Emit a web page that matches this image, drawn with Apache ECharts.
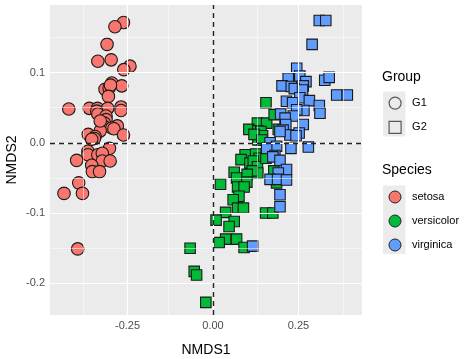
<!DOCTYPE html>
<html>
<head>
<meta charset="utf-8">
<script src="https://cdn.jsdelivr.net/npm/echarts@6/dist/echarts.min.js"></script>
<style>
html,body{margin:0;padding:0;background:#fff;}
#chart{width:474px;height:359px;}
</style>
</head>
<body>
<div id="chart"></div>
<script>
// ---- data (NMDS1, NMDS2) ----
const setosa = [
  [-0.262,0.171],[-0.287,0.165],[-0.310,0.140],[-0.337,0.116],[-0.298,0.118],
  [-0.243,0.109],[-0.261,0.104],[-0.296,0.085],[-0.267,0.081],[-0.316,0.076],
  [-0.304,0.078],[-0.300,0.082],[-0.306,0.066],[-0.422,0.048],[-0.362,0.049],
  [-0.338,0.049],[-0.308,0.049],[-0.269,0.051],[-0.269,0.046],[-0.340,0.045],
  [-0.337,0.041],[-0.313,0.038],[-0.313,0.033],[-0.318,0.028],[-0.321,0.024],
  [-0.280,0.024],[-0.296,0.021],[-0.290,0.020],[-0.330,0.017],[-0.365,0.012],
  [-0.345,0.009],[-0.262,0.011],[-0.347,0.006],[-0.355,0.005],[-0.366,-0.012],
  [-0.366,-0.017],[-0.303,-0.008],[-0.337,-0.017],[-0.324,-0.015],[-0.399,-0.025],
  [-0.324,-0.026],[-0.301,-0.026],[-0.355,-0.032],[-0.353,-0.041],[-0.332,-0.041],
  [-0.393,-0.057],[-0.436,-0.072],[-0.382,-0.072],[-0.396,-0.151],[-0.330,0.031]
];
const versicolor = [
  [0.155,0.057],[0.130,0.028],[0.157,0.028],[0.179,0.040],[0.105,0.019],
  [0.131,0.017],[0.140,0.016],[0.191,0.019],[0.132,0.007],[0.132,0.004],
  [0.145,0.010],[0.120,0.012],[0.160,0.000],[0.143,0.004],[0.125,-0.016],
  [0.094,-0.017],[0.135,-0.022],[0.082,-0.024],[0.108,-0.029],[0.118,-0.026],
  [0.130,-0.034],[0.155,-0.022],[0.131,-0.043],[0.115,-0.040],[0.062,-0.042],
  [0.069,-0.050],[0.100,-0.045],[0.099,-0.056],[0.072,-0.063],[0.091,-0.063],
  [0.076,-0.076],[0.059,-0.081],[0.072,-0.093],[0.089,-0.093],[0.154,-0.100],
  [0.175,-0.100],[0.186,-0.057],[0.178,-0.040],[0.022,-0.059],[0.037,-0.099],
  [0.009,-0.110],[0.062,-0.112],[0.047,-0.119],[0.037,-0.137],[0.018,-0.142],
  [0.069,-0.137],[0.091,-0.149],[-0.067,-0.150],[-0.055,-0.183],[-0.048,-0.188],
  [-0.021,-0.227]
];
const virginica = [
  [0.311,0.174],[0.330,0.174],[0.290,0.140],[0.245,0.106],[0.254,0.095],
  [0.220,0.092],[0.272,0.087],[0.264,0.081],[0.202,0.081],[0.229,0.080],
  [0.238,0.077],[0.262,0.075],[0.327,0.089],[0.340,0.093],[0.362,0.068],
  [0.393,0.068],[0.254,0.064],[0.282,0.060],[0.215,0.059],[0.233,0.057],
  [0.311,0.053],[0.313,0.042],[0.266,0.046],[0.245,0.047],[0.235,0.038],
  [0.198,0.041],[0.211,0.035],[0.213,0.026],[0.264,0.026],[0.205,0.018],
  [0.225,0.011],[0.252,0.014],[0.243,0.010],[0.196,0.016],[0.167,0.000],
  [0.186,-0.005],[0.157,-0.008],[0.181,-0.018],[0.175,-0.020],[0.196,-0.025],
  [0.228,-0.008],[0.279,-0.006],[0.215,-0.038],[0.191,-0.043],[0.167,-0.052],
  [0.189,-0.052],[0.215,-0.053],[0.196,-0.074],[0.196,-0.091],[0.116,-0.147]
];
const xTicks = [-0.25, 0, 0.25];
const yTicks = [-0.2, -0.1, 0, 0.1];
const xMinor = [-0.375, -0.125, 0.125, 0.375];
const yMinor = [-0.15, -0.05, 0.05, 0.15];
const xRange = [-0.477, 0.436];
const yRange = [-0.245, 0.196];
const speciesNames = ['setosa','versicolor','virginica'];
const speciesColors = ['#F8766D','#00BA38','#619CFF'];
const groupNames = ['G1','G2'];

// ---- chart ----
const chart = echarts.init(document.getElementById('chart'), null, {renderer:'canvas'});
const gridLines = [];
xTicks.forEach(v => gridLines.push({xAxis:v, lineStyle:{color:'#fff', width:1.1, type:'solid'}}));
yTicks.forEach(v => gridLines.push({yAxis:v, lineStyle:{color:'#fff', width:1.1, type:'solid'}}));
xMinor.forEach(v => gridLines.push({xAxis:v, lineStyle:{color:'#fff', width:0.5, type:'solid'}}));
yMinor.forEach(v => gridLines.push({yAxis:v, lineStyle:{color:'#fff', width:0.5, type:'solid'}}));
gridLines.push({xAxis:0, lineStyle:{color:'#222', width:1.4, type:[5,4]}});
gridLines.push({yAxis:0, lineStyle:{color:'#222', width:1.4, type:[5,4]}});

const ptStyle = (c) => ({color:c, borderColor:'#1a1a1a', borderWidth:1.1, opacity:1});

const option = {
  animation:false,
  backgroundColor:'#fff',
  grid:{left:50, right:112, top:5, bottom:44, show:true, backgroundColor:'#EBEBEB', borderWidth:0, containLabel:false, outerBoundsMode:'none'},
  title:[
    {text:'Group', left:382, top:70, padding:0, textStyle:{fontSize:14, fontWeight:'normal', color:'#000', fontFamily:'Liberation Sans'}},
    {text:'Species', left:382, top:163, padding:0, textStyle:{fontSize:14, fontWeight:'normal', color:'#000', fontFamily:'Liberation Sans'}}
  ],
  graphic:[
    {type:'rect', left:383, top:91.5, shape:{width:22.5, height:45}, style:{fill:'#EBEBEB'}, silent:true},
    {type:'rect', left:383, top:185.5, shape:{width:22.5, height:68.5}, style:{fill:'#EBEBEB'}, silent:true}
  ],
  legend:[
    {orient:'vertical', left:388.5, top:96.5, padding:0, itemWidth:12, itemHeight:12, itemGap:11, selectedMode:false,
     textStyle:{fontSize:11, color:'#000', fontFamily:'Liberation Sans', padding:[0,0,0,6]},
     data:[
       {name:groupNames[0], icon:'circle', itemStyle:{color:'rgba(0,0,0,0)', borderColor:'#333', borderWidth:1.2}},
       {name:groupNames[1], icon:'rect', itemStyle:{color:'rgba(0,0,0,0)', borderColor:'#333', borderWidth:1.2}}
     ]},
    {orient:'vertical', left:388.5, top:190.5, padding:0, itemWidth:12, itemHeight:12, itemGap:11, selectedMode:false,
     textStyle:{fontSize:11, color:'#000', fontFamily:'Liberation Sans', padding:[0,0,0,6]},
     data:speciesNames.map((n,i)=>({name:n, icon:'circle', itemStyle:{color:speciesColors[i], borderColor:'#222', borderWidth:1}}))}
  ],
  xAxis:{
    type:'value', min:xRange[0], max:xRange[1],
    name:'NMDS1', nameLocation:'middle', nameGap:28,
    nameTextStyle:{fontSize:14, color:'#000', fontFamily:'Liberation Sans'},
    axisLine:{show:false},
    splitLine:{show:false},
    axisTick:{show:true, length:3, lineStyle:{color:'#333', width:1}, customValues:xTicks},
    axisLabel:{show:true, fontSize:11, color:'#4D4D4D', margin:5, fontFamily:'Liberation Sans', customValues:xTicks, formatter:(v)=>v.toFixed(2)}
  },
  yAxis:{
    type:'value', min:yRange[0], max:yRange[1],
    name:'NMDS2', nameLocation:'middle', nameGap:31, nameRotate:90, nameMoveOverlap:false,
    nameTextStyle:{fontSize:14, color:'#000', fontFamily:'Liberation Sans'},
    axisLine:{show:false},
    splitLine:{show:false},
    axisTick:{show:true, length:3, lineStyle:{color:'#333', width:1}, customValues:yTicks},
    axisLabel:{show:true, fontSize:11, color:'#4D4D4D', margin:5, fontFamily:'Liberation Sans', customValues:yTicks, formatter:(v)=>v.toFixed(1)}
  },
  series:[
    {name:'lines', type:'scatter', data:[], z:1, silent:true,
     markLine:{silent:true, symbol:'none', label:{show:false}, animation:false, data:gridLines}},
    {name:groupNames[0], type:'scatter', data:[], symbol:'circle'},
    {name:groupNames[1], type:'scatter', data:[], symbol:'rect'},
    {name:speciesNames[0], type:'scatter', z:3, data:setosa, symbol:'circle', symbolSize:12.5, itemStyle:ptStyle(speciesColors[0])},
    {name:speciesNames[1], type:'scatter', z:3, data:versicolor, symbol:'rect', symbolSize:10.5, itemStyle:ptStyle(speciesColors[1])},
    {name:speciesNames[2], type:'scatter', z:3, data:virginica, symbol:'rect', symbolSize:10.5, itemStyle:ptStyle(speciesColors[2])}
  ]
};
chart.setOption(option);
</script>
</body>
</html>
